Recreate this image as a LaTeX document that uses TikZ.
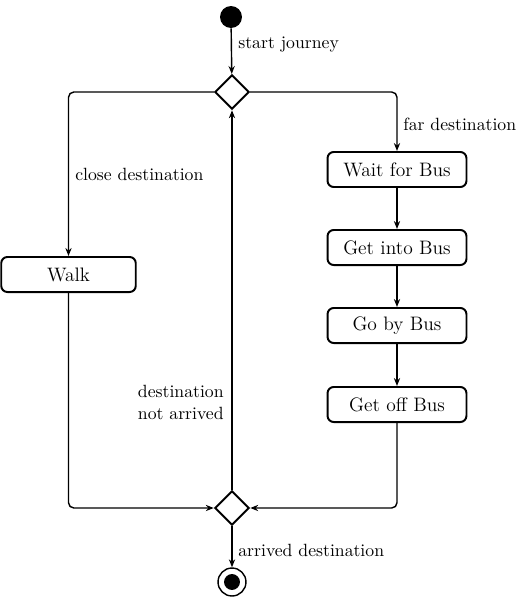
\documentclass[tikz,border=0pt]{standalone}
\usetikzlibrary{shapes.geometric,arrows.meta}
\begin{document}
\begin{tikzpicture}[x=0.565pt,y=-0.565pt,
  actbox/.style={draw,line width=1.1pt,rounded corners=3.5pt,minimum height=19.8pt,inner sep=2pt,font=\fontsize{11}{13}\selectfont},
  decide/.style={draw,line width=1.1pt,diamond,minimum size=19.5pt,inner sep=0pt},
  conn/.style={line width=0.8pt,rounded corners=3pt,-{Stealth[length=4.5pt,width=3.5pt]}},
  lbl/.style={inner sep=0pt}]
\useasboundingbox (0,0) rectangle (521,598);
\node[circle,fill=black,minimum size=12.4pt,inner sep=0pt] (start) at (231,17) {};
\node[decide] (top) at (232,92) {};
\node[decide] (bot) at (232,508) {};
\node[actbox,minimum width=76pt] (walk) at (68.5,274.5) {Walk};
\node[actbox,minimum width=78.5pt] (wait) at (397,169.5) {Wait for Bus};
\node[actbox,minimum width=78.5pt] (into) at (397,247.5) {Get into Bus};
\node[actbox,minimum width=78.5pt] (go) at (397,325.5) {Go by Bus};
\node[actbox,minimum width=78.5pt] (off) at (397,404.5) {Get off Bus};
\node[circle,draw,line width=0.8pt,minimum size=15.8pt,inner sep=0pt] (end) at (232,582) {};
\node[circle,fill=black,minimum size=9pt,inner sep=0pt] (endin) at (end.center) {};
\node[lbl,anchor=west] (ls) at (238,44) {start journey};
\node[lbl,anchor=west] (lf) at (403,124) {far destination};
\node[lbl,anchor=west] (lc) at (75,174) {close destination};
\node[lbl,anchor=east,align=center] (ln) at (224,402.5) {destination\\not arrived};
\node[lbl,anchor=west] (la) at (238,550) {arrived destination};
\draw[conn] (start) -- (top);
\draw[conn] (top.west) -| (walk.north);
\draw[conn] (top.east) -| (wait.north);
\draw[conn] (wait) -- (into);
\draw[conn] (into) -- (go);
\draw[conn] (go) -- (off);
\draw[conn] (walk.south) |- (bot.west);
\draw[conn] (off.south) |- (bot.east);
\draw[conn] (bot.north) -- (top.south);
\draw[conn] (bot.south) -- (end.north);
\end{tikzpicture}
\end{document}
